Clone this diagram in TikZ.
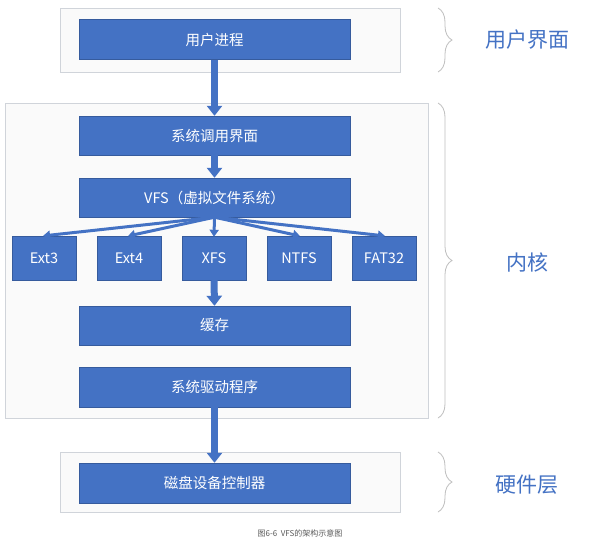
\documentclass[tikz,border=0pt]{standalone}
\usepackage{fontspec}
\setmainfont{Noto Sans CJK SC}
\usetikzlibrary{arrows.meta,decorations.pathreplacing}
\definecolor{bl}{HTML}{4472C4}
\definecolor{fr}{HTML}{D0D4DA}
\begin{document}
\begin{tikzpicture}[x=1pt,y=-1pt,
  frame/.style={draw=fr,fill=gray!4,line width=1pt},
  box/.style={fill=bl,draw=bl!80!black,line width=0.4pt,text=white,font=\fontsize{14.5}{17}\selectfont},
  fat/.style={draw=bl,line width=7pt,-{Triangle[width=15pt,length=10pt]}},
  thin/.style={draw=bl,line width=3pt,-{Triangle[width=9pt,length=7pt]},shorten >=-1pt},
  br/.style={draw=gray!50,line width=0.8pt,decorate,decoration={brace,amplitude=14pt,aspect=0.5}},
  lab/.style={text=bl,font=\fontsize{21}{25}\selectfont}]
\useasboundingbox (0,0) rectangle (600,542);
\fill[white] (0,0) rectangle (600,542);
\draw[frame] (60,8) rectangle (400,72);
\draw[frame] (5,103) rectangle (428,418);
\draw[frame] (60,452) rectangle (400,512);
\node[box,minimum width=271pt,minimum height=40pt] (u) at (214.5,39.5) {用户进程};
\node[box,minimum width=271pt,minimum height=39pt] (s) at (214.5,135.5) {系统调用界面};
\node[box,minimum width=271pt,minimum height=39pt] (v) at (214.5,197.5) {VFS（虚拟文件系统）};
\foreach \n/\x/\t in {e3/44/Ext3,e4/129/Ext4,x/214/XFS,n/299/NTFS,f/384/FAT32}
  \node[box,minimum width=64pt,minimum height=44pt] (\n) at (\x,258) {\t};
\node[box,minimum width=271pt,minimum height=39pt] (c) at (214.5,325.5) {缓存};
\node[box,minimum width=271pt,minimum height=40pt] (d) at (214.5,387) {系统驱动程序};
\node[box,minimum width=271pt,minimum height=40pt] (h) at (214.5,483) {磁盘设备控制器};
\draw[fat] (u.south) -- (s.north);
\draw[fat] (s.south) -- (v.north);
\foreach \n in {e3,e4,x,n,f} \draw[thin] (v.south) -- (\n.north);
\draw[fat] (x.south) -- (c.north);
\draw[fat] (d.south) -- (h.north);
\coordinate (a1) at (438,8); \coordinate (b1) at (438,72);
\coordinate (a2) at (438,103); \coordinate (b2) at (438,418);
\coordinate (a3) at (438,452); \coordinate (b3) at (438,512);
\draw[br] (a1) -- (b1); \draw[br] (a2) -- (b2); \draw[br] (a3) -- (b3);
\node[lab] (l1) at (527,40) {用户界面};
\node[lab] (l2) at (527,262) {内核};
\node[lab] (l3) at (527,485) {硬件层};
\node[text=gray!70!black,font=\fontsize{8}{9}\selectfont] (cap) at (300,533) {图6-6\ \ VFS的架构示意图};
\end{tikzpicture}
\end{document}
